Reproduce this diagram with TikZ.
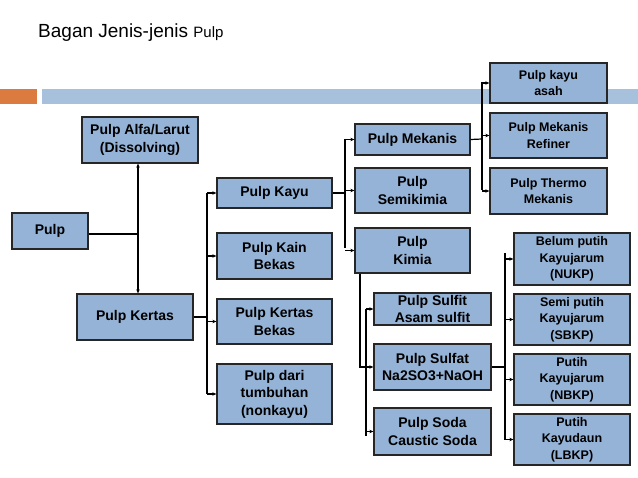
\documentclass[tikz,border=0pt]{standalone}
\usepackage{fontspec}
\setmainfont{Liberation Sans}
\usetikzlibrary{arrows.meta}
\definecolor{bx}{HTML}{95B3D7}
\definecolor{bar}{HTML}{A7C0DC}
\definecolor{org}{HTML}{DB7B3F}
\begin{document}
\begin{tikzpicture}[x=1pt,y=-1pt,
 box/.style={draw=black!85,line width=1.3pt,fill=bx,inner sep=0pt,align=center,font=\fontsize{14}{17.5}\selectfont\bfseries},
 sm/.style={box,font=\fontsize{12.5}{16.5}\selectfont\bfseries},
 ln/.style={line width=1.2pt},
 ar/.style={ln,-{Stealth[length=4pt,width=3.5pt]}}]
\useasboundingbox (0,0) rectangle (638,478);
\fill[white] (0,0) rectangle (638,478);
\fill[org] (0,89) rectangle (37,104);
\fill[bar] (42,89) rectangle (638,104);
\node[anchor=base west,inner sep=0pt] (title) at (38,38) {\fontsize{19}{22}\selectfont Bagan Jenis-jenis \fontsize{15}{18}\selectfont Pulp};
\newcommand\bx[7]{\node[#1,minimum width=#4-#3,minimum height=#6-#5] (#2) at ({(#3+#4)/2},{(#5+#6)/2}) {#7};}
\bx{box}{pulp}{12}{88}{213}{249}{Pulp}
\bx{box}{alfa}{82}{198}{117}{163}{Pulp Alfa/Larut\\(Dissolving)}
\bx{box}{kertas}{77}{193}{294}{340}{Pulp Kertas}
\bx{box}{kayu}{217}{332}{178}{208}{Pulp Kayu}
\bx{box}{kain}{217}{332}{233}{279}{Pulp Kain\\Bekas}
\bx{box}{kb}{217}{332}{299}{344}{Pulp Kertas\\Bekas}
\bx{box}{tum}{217}{332}{364}{424}{Pulp dari\\tumbuhan\\(nonkayu)}
\bx{box}{mek}{355}{470}{124}{155}{Pulp Mekanis}
\bx{box}{semi}{355}{470}{168}{213}{Pulp\\Semikimia}
\bx{box}{kimia}{355}{470}{228}{273}{Pulp\\Kimia}
\bx{box}{sulfit}{374}{491}{293}{325}{Pulp Sulfit\\Asam sulfit}
\bx{box}{sulfat}{374}{491}{344}{390}{Pulp Sulfat\\Na2SO3+NaOH}
\bx{box}{soda}{374}{491}{408}{455}{Pulp Soda\\Caustic Soda}
\bx{sm}{asah}{490}{607}{63}{103}{Pulp kayu\\asah}
\bx{sm}{ref}{490}{607}{113}{158}{Pulp Mekanis\\Refiner}
\bx{sm}{thermo}{490}{607}{168}{214}{Pulp Thermo\\Mekanis}
\bx{sm}{nukp}{514}{630}{233}{285}{Belum putih\\Kayujarum\\(NUKP)}
\bx{sm}{sbkp}{514}{630}{294}{345}{Semi putih\\Kayujarum\\(SBKP)}
\bx{sm}{nbkp}{514}{630}{354}{405}{Putih\\Kayujarum\\(NBKP)}
\bx{sm}{lbkp}{514}{630}{414}{465}{Putih\\Kayudaun\\(LBKP)}
% Pulp
\coordinate (j1) at (138,234);
\draw[ln] (pulp.east|-j1) -- (j1);
\draw[ar] (j1) -- (j1|-alfa.south);
\draw[ar] (j1) -- (j1|-kertas.north);
% Kertas bus
\coordinate (b1) at (207,317);
\draw[ln] (kertas.east|-b1) -- (b1);
\draw[ln] (207,193) -- (207,394);
\foreach \n in {kayu,kain,kb,tum} \draw[ar] (207,0|-\n.west) -- (\n.west);
% Kayu bus
\coordinate (b2) at (345,193);
\draw[ln] (kayu.east) -- (b2);
\draw[ln] (345,139) -- (345,248);
\foreach \n in {mek,semi,kimia} \draw[ar] (345,0|-\n.west) -- (\n.west);
% Mekanis bus
\coordinate (b3) at (482,139);
\draw[ln] (mek.east) -- (b3);
\draw[ln] (482,82) -- (482,190);
\foreach \n in {asah,ref,thermo} \draw[ar] (482,0|-\n.west) -- (\n.west);
% Kimia bus
\coordinate (b4) at (360,367);
\draw[ln] (360,0|-kimia.south) -- (b4) -- (366,367);
\draw[ln] (366,309) -- (366,436);
\foreach \n in {sulfit,sulfat,soda} \draw[ar] (366,0|-\n.west) -- (\n.west);
% Sulfat bus
\coordinate (b5) at (505,367);
\draw[ln] (sulfat.east) -- (b5);
\draw[ln] (505,253) -- (505,440);
\foreach \n in {nukp,sbkp,nbkp,lbkp} \draw[ar] (505,0|-\n.west) -- (\n.west);
\end{tikzpicture}
\end{document}
